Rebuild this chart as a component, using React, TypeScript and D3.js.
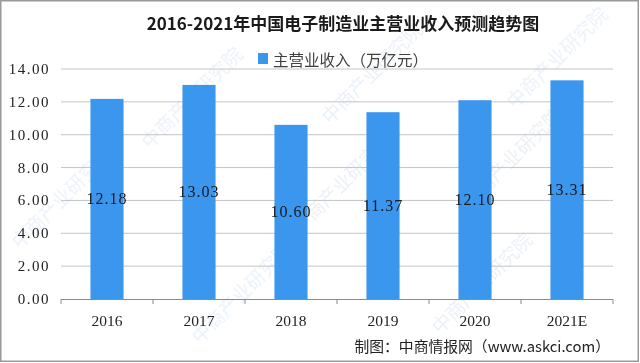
import React from "react";
import * as d3 from "d3";

const categories = ["2016", "2017", "2018", "2019", "2020", "2021E"];
const revenue = [12.18, 13.03, 10.6, 11.37, 12.1, 13.31];
const yTicks = [0, 2, 4, 6, 8, 10, 12, 14];
const title = "2016-2021年中国电子制造业主营业收入预测趋势图";
const legendLabel = "主营业收入（万亿元）";
const sourceLabel = "制图：中商情报网（www.askci.com）";
const watermarkText = "中商产业研究院";

const W = 640;
const H = 363;
const plot = { left: 61, right: 613, top: 69, bottom: 299 };
const BAR = "#3b96ee";
const serif = "'Liberation Serif', 'DejaVu Serif', serif";
const cjk = "'Noto Sans CJK SC', 'Noto Sans', sans-serif";

export default function App() {
  const x = d3
    .scaleBand<string>()
    .domain(categories)
    .range([plot.left, plot.right])
    .paddingInner(0.64)
    .paddingOuter(0.32);
  const y = d3.scaleLinear().domain([0, 14]).range([plot.bottom, plot.top]);
  const fmt = d3.format(".2f");
  const boundaries = d3.range(categories.length + 1).map((i) => plot.left + i * ((plot.right - plot.left) / categories.length));

  const marks = [
    [20, 250], [150, 150], [200, 345], [300, 235], [330, 125], [440, 335], [470, 210], [515, 110],
  ];

  return (
    <svg
      width={W}
      height={H}
      viewBox={`0 0 ${W} ${H}`}
      style={{ position: "fixed", left: 0, top: 0, background: "#fff" }}
    >
      <rect x={0} y={0} width={W} height={H} fill="#ffffff" />
      {/* watermarks */}
      <g opacity={0.11} fill="#4a7fc0" fontFamily={cjk} fontSize={19}>
        {marks.map(([mx, my], i) => (
          <text key={i} x={mx} y={my} transform={`rotate(-45 ${mx} ${my})`}>
            {watermarkText}
          </text>
        ))}
      </g>
      {/* title */}
      <text
        x={343}
        y={22}
        textAnchor="middle"
        dominantBaseline="central"
        fontFamily={cjk}
        fontWeight={700}
        fontSize={17}
        fill="#1a1a1a"
      >
        {title}
      </text>
      {/* legend */}
      <rect x={258} y={53} width={10} height={11} fill={BAR} />
      <text x={273} y={59} dominantBaseline="central" fontFamily={cjk} fontSize={15.5} fill="#404040">
        {legendLabel}
      </text>
      {/* gridlines */}
      {yTicks.map((t) =>
        t === 0 ? null : (
          <line key={t} x1={plot.left} x2={plot.right} y1={y(t)} y2={y(t)} stroke="#c4c4c4" strokeWidth={1} />
        )
      )}
      {/* y labels */}
      {yTicks.map((t) => (
        <text
          key={"l" + t}
          x={50}
          y={y(t)}
          textAnchor="end"
          dominantBaseline="central"
          fontFamily={serif}
          fontSize={15}
          letterSpacing={1.5}
          fill="#222"
        >
          {fmt(t)}
        </text>
      ))}
      {/* bars */}
      {categories.map((c, i) => (
        <rect
          key={c}
          x={x(c)!}
          y={y(revenue[i])}
          width={x.bandwidth()}
          height={plot.bottom - y(revenue[i])}
          fill={BAR}
        />
      ))}
      {/* x axis */}
      <line x1={plot.left} x2={plot.right} y1={plot.bottom + 0.5} y2={plot.bottom + 0.5} stroke="#8c8c8c" strokeWidth={1} />
      {boundaries.map((bx, i) => (
        <line key={"t" + i} x1={bx} x2={bx} y1={plot.bottom} y2={plot.bottom + 5} stroke="#8c8c8c" strokeWidth={1} />
      ))}
      {categories.map((c) => (
        <text
          key={"x" + c}
          x={x(c)! + x.bandwidth() / 2}
          y={320}
          textAnchor="middle"
          dominantBaseline="central"
          fontFamily={serif}
          fontSize={15.5}
          fill="#222"
        >
          {c}
        </text>
      ))}
      {/* value labels */}
      {categories.map((c, i) => (
        <text
          key={"v" + c}
          x={x(c)! + x.bandwidth() / 2}
          y={(y(revenue[i]) + plot.bottom) / 2}
          textAnchor="middle"
          dominantBaseline="central"
          fontFamily={serif}
          fontSize={16}
          letterSpacing={1}
          fill="#1a1a1a"
        >
          {fmt(revenue[i])}
        </text>
      ))}
      {/* source */}
      <text x={610} y={345} textAnchor="end" dominantBaseline="central" fontFamily={cjk} fontSize={14.8} fill="#222">
        {sourceLabel}
      </text>
      {/* border */}
      <rect x={0.75} y={0.75} width={W - 2.5} height={H - 2.5} fill="none" stroke="#9a9a9a" strokeWidth={1.5} />
    </svg>
  );
}
